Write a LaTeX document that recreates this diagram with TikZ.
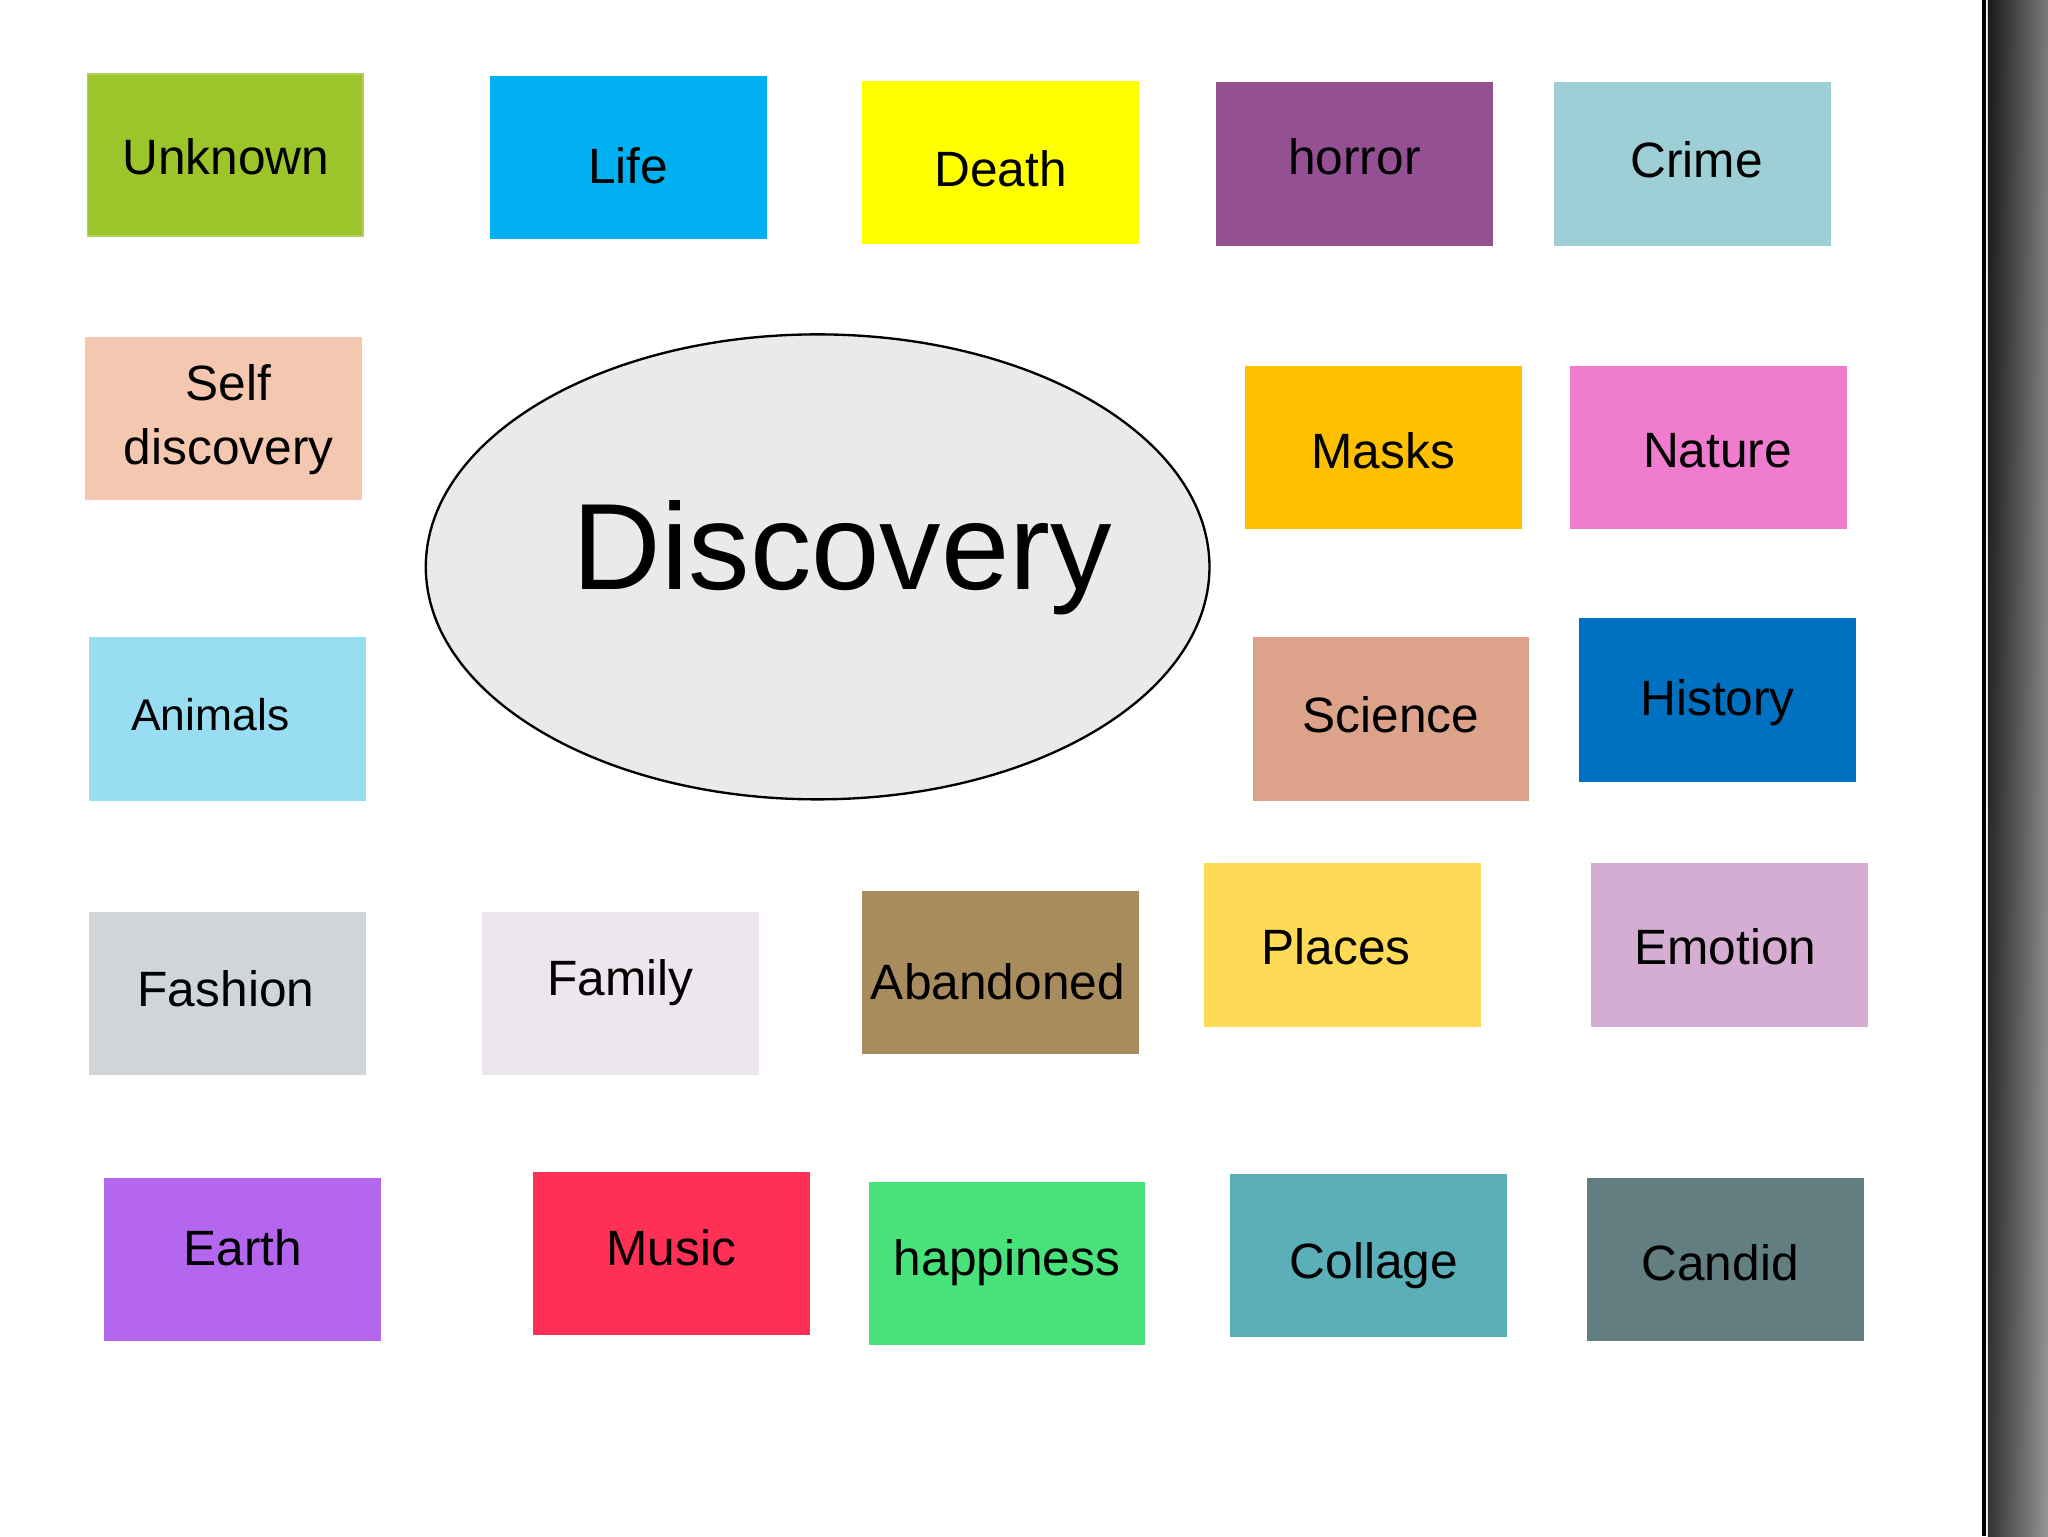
\documentclass[tikz,border=0pt]{standalone}
\usepackage{fontspec}
\setmainfont{Liberation Sans}
\begin{document}
\begin{tikzpicture}[x=1pt,y=-1pt,
  tag/.style={font=\fontsize{38}{44}\selectfont, text=black, align=center}]
\useasboundingbox (0,0) rectangle (1568,1176);
\fill[white] (0,0) rectangle (1568,1176);
% right strip
\shade[top color=black!90, bottom color=black!55] (1522,0) rectangle (1568,1176);
\shade[left color=black!90, right color=black!35, opacity=0.7] (1522,0) rectangle (1568,1176);
\draw[black, line width=3] (1519,0) -- (1519,1176);
\newcommand{\tagbox}[8]{%
  \definecolor{c#1}{HTML}{#2}
  \fill[c#1] (#3,#4) rectangle (#5,#6);
  \node[tag] (#1) at (#7,#8) {#1};}
\definecolor{cUnk}{HTML}{9BC52A}
\fill[cUnk, draw=cUnk!80!white, line width=1.5] (67,57) rectangle (278,181);
\node[tag] (Unknown) at (173,120) {Unknown};
\tagbox{Life}{00B0F0}{375}{58}{587}{183}{481}{127}
\tagbox{Death}{FFFF00}{660}{62}{872}{187}{766}{129}
\tagbox{horror}{954F93}{931}{63}{1143}{188}{1037}{120}
\tagbox{Crime}{9ECFD6}{1190}{63}{1402}{188}{1299}{122}
\definecolor{cSelf}{HTML}{F4C7B0}
\fill[cSelf] (65,258) rectangle (277,383);
\node[tag, font=\fontsize{38}{49}\selectfont] (self) at (175,321) {Self\\discovery};
\tagbox{Masks}{FFC000}{953}{280}{1165}{405}{1059}{345}
\tagbox{Nature}{F07CD0}{1202}{280}{1414}{405}{1315}{345}
\definecolor{cAnimals}{HTML}{99DDF3}
\fill[cAnimals] (68,488) rectangle (280,613);
\node[tag, font=\fontsize{34}{40}\selectfont] (Animals) at (161,547) {Animals};
\tagbox{Science}{DDA28A}{959}{488}{1171}{613}{1065}{547}
\tagbox{History}{0070C0}{1209}{473}{1421}{599}{1315}{538}
\tagbox{Fashion}{CFD5D8}{68}{698}{280}{823}{173}{757}
\tagbox{Family}{EEE6EE}{369}{698}{581}{823}{475}{752}
\tagbox{Abandoned}{A88C5E}{660}{682}{872}{807}{764}{752}
\tagbox{Places}{FFDA57}{922}{661}{1134}{786}{1023}{725}
\tagbox{Emotion}{D5ACD2}{1218}{661}{1430}{786}{1321}{725}
\tagbox{Earth}{B566EE}{80}{902}{292}{1027}{186}{955}
\tagbox{Music}{FF3055}{408}{897}{620}{1022}{514}{955}
\tagbox{happiness}{48E27A}{665}{905}{877}{1030}{771}{967}
\tagbox{Collage}{5AAFB8}{942}{899}{1154}{1024}{1052}{969}
\tagbox{Candid}{637E80}{1215}{902}{1427}{1027}{1317}{967}
\definecolor{ellc}{HTML}{E9EBEB}
\draw[fill=ellc, line width=1.8] (626,434) ellipse [x radius=300, y radius=178];
\node[font=\fontsize{94}{104}\selectfont] (disc) at (645,427) {Discovery};
\end{tikzpicture}
\end{document}
